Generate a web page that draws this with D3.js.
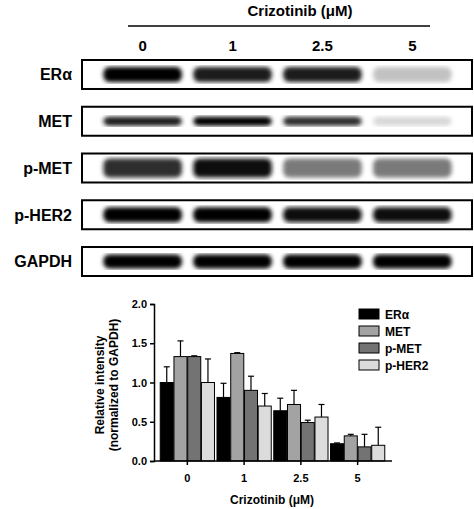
<!DOCTYPE html>
<html lang="en">
<head>
<meta charset="UTF-8">
<script src="https://cdn.jsdelivr.net/npm/d3@7"></script>
<style>body{margin:0;background:#fff}text{font-family:Arial,"Liberation Sans",sans-serif;font-weight:bold}</style>
</head>
<body>
<svg width="474" height="509"></svg>
<script>
const doses = ["0", "1", "2.5", "5"];
const proteins = ["ERα", "MET", "p-MET", "p-HER2"];
const blotRows = ["ERα", "MET", "p-MET", "p-HER2", "GAPDH"];
// band darkness per lane (0..1) read from the blot
const bandIntensity = {
  "ERα":   [1.0, 0.9, 0.9, 0.35],
  "MET":   [0.9, 1.0, 0.85, 0.25],
  "p-MET": [0.85, 0.95, 0.6, 0.6],
  "p-HER2":[1.0, 1.0, 0.95, 0.95],
  "GAPDH": [1.0, 1.0, 1.0, 1.0]
};
const bandHeight = {"ERα": 15, "MET": 9, "p-MET": 19, "p-HER2": 15, "GAPDH": 14};
const means = {
  "ERα":   [1.0, 0.81, 0.64, 0.22],
  "MET":   [1.33, 1.37, 0.72, 0.32],
  "p-MET": [1.33, 0.90, 0.49, 0.18],
  "p-HER2":[1.0, 0.70, 0.56, 0.20]
};
const errs = {
  "ERα":   [0.20, 0.18, 0.16, 0.01],
  "MET":   [0.20, 0.01, 0.18, 0.02],
  "p-MET": [0.01, 0.18, 0.03, 0.16],
  "p-HER2":[0.30, 0.16, 0.16, 0.23]
};
const yTicks = [0, 0.5, 1.0, 1.5, 2.0];
const colors = ["#000000", "#a3a3a3", "#737373", "#dcdcdc"];

const svg = d3.select("svg");
const defs = svg.append("defs");
defs.append("filter").attr("id", "blur").append("feGaussianBlur").attr("stdDeviation", 2);

// ---- blot panel ----
const lane = d3.scaleBand().domain(doses).range([95, 460]).padding(0.06);
const row = d3.scaleBand().domain(blotRows).range([60, 276]).paddingInner(0.38);

svg.append("text").attr("x", 300).attr("y", 16).attr("text-anchor", "middle")
  .attr("font-size", 15).text("Crizotinib (μM)");
svg.append("line").attr("x1", 128).attr("x2", 430).attr("y1", 26).attr("y2", 26)
  .attr("stroke", "#000").attr("stroke-width", 1.3);
svg.selectAll(".lane").data(doses).join("text")
  .attr("x", d => lane(d) + lane.bandwidth() / 2).attr("y", 51)
  .attr("text-anchor", "middle").attr("font-size", 15).text(d => d);

const rows = svg.selectAll(".row").data(blotRows).join("g")
  .attr("transform", d => `translate(0,${row(d)})`);
rows.append("rect").attr("x", 82).attr("width", 390).attr("height", row.bandwidth())
  .attr("fill", "#fff").attr("stroke", "#000").attr("stroke-width", 2);
rows.append("text").attr("x", 72).attr("y", row.bandwidth() / 2 + 6)
  .attr("text-anchor", "end").attr("font-size", 16).text(d => d);
rows.selectAll(".band").data(d => bandIntensity[d].map((v, i) => ({p: d, v, dose: doses[i]})))
  .join("rect")
  .attr("x", d => lane(d.dose) + 3).attr("width", lane.bandwidth() - 6)
  .attr("y", d => row.bandwidth() / 2 - bandHeight[d.p] / 2)
  .attr("height", d => bandHeight[d.p]).attr("rx", 6)
  .attr("fill", d => d3.interpolateGreys(d.v)).attr("filter", "url(#blur)");

// ---- bar chart ----
const x0 = d3.scaleBand().domain(doses).range([155, 390]).paddingInner(0.02).paddingOuter(0.08);
const x1 = d3.scaleBand().domain(proteins).range([0, x0.bandwidth()]).padding(0.05);
const y = d3.scaleLinear().domain([0, 2]).range([461, 304]);

const groups = svg.selectAll(".grp").data(doses).join("g")
  .attr("transform", d => `translate(${x0(d)},0)`);
const items = groups.selectAll("g").data((d, i) => proteins.map((p, k) => ({p, k, m: means[p][i], e: errs[p][i]})))
  .join("g");
items.append("line").attr("x1", d => x1(d.p) + x1.bandwidth() / 2).attr("x2", d => x1(d.p) + x1.bandwidth() / 2)
  .attr("y1", d => y(d.m)).attr("y2", d => y(d.m + d.e)).attr("stroke", "#000").attr("stroke-width", 1.2);
items.append("line").attr("x1", d => x1(d.p) + x1.bandwidth() / 2 - 3).attr("x2", d => x1(d.p) + x1.bandwidth() / 2 + 3)
  .attr("y1", d => y(d.m + d.e)).attr("y2", d => y(d.m + d.e)).attr("stroke", "#000").attr("stroke-width", 1.2);
items.append("rect").attr("x", d => x1(d.p)).attr("width", x1.bandwidth())
  .attr("y", d => y(d.m)).attr("height", d => y(0) - y(d.m))
  .attr("fill", d => colors[d.k]).attr("stroke", "#000").attr("stroke-width", 1);

const yAxis = svg.append("g").attr("transform", "translate(154,0)")
  .call(d3.axisLeft(y).tickValues(yTicks).tickFormat(d3.format(".1f")).tickSize(4));
const xAxis = svg.append("g").attr("transform", "translate(0,461)")
  .call(d3.axisBottom(x0).tickSize(4));
xAxis.select(".domain").attr("d", "M154,0H392");
[yAxis, xAxis].forEach(a => {
  a.selectAll("path,line").attr("stroke", "#000").attr("stroke-width", 1.5);
  a.selectAll("text").attr("font-size", 11).attr("font-family", "Arial, sans-serif").attr("font-weight", "bold");
});
xAxis.selectAll("text").attr("dy", "1.3em");

svg.append("text").attr("transform", "translate(104,385) rotate(-90)").attr("text-anchor", "middle")
  .attr("font-size", 12).text("Relative intensity");
svg.append("text").attr("transform", "translate(118,385) rotate(-90)").attr("text-anchor", "middle")
  .attr("font-size", 12).text("(normalized to GAPDH)");
svg.append("text").attr("x", 272).attr("y", 504).attr("text-anchor", "middle")
  .attr("font-size", 12).text("Crizotinib (μM)");

const leg = svg.selectAll(".leg").data(proteins).join("g")
  .attr("transform", (d, i) => `translate(359,${309 + i * 17})`);
leg.append("rect").attr("width", 20).attr("height", 10).attr("fill", (d, i) => colors[i]).attr("stroke", "#000");
leg.append("text").attr("x", 26).attr("y", 10).attr("font-size", 12).text(d => d);
</script>
</body>
</html>
